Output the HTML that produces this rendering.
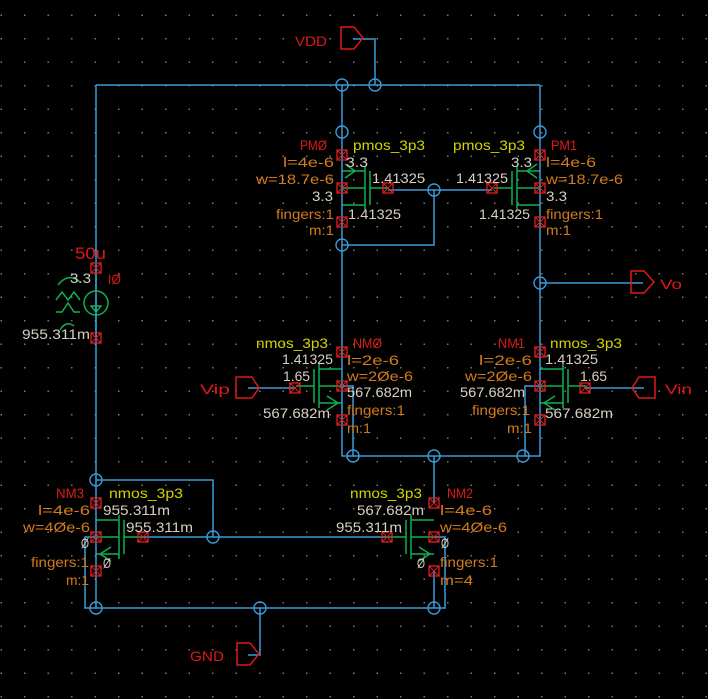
<!DOCTYPE html>
<html><head><meta charset="utf-8"><style>
html,body{margin:0;padding:0;background:#000;}
svg{display:block}
text{font-family:"Liberation Sans",sans-serif;font-size:14px;}
.o{fill:#d27a1c}.y{fill:#d2d200}.g{fill:#d8d0c0}.r{fill:#e01818}
</style></head><body>
<svg width="708" height="699" viewBox="0 0 708 699" xmlns="http://www.w3.org/2000/svg">
<defs>
<pattern id="dots" x="0" y="14.5" width="23.5" height="23.5" patternUnits="userSpaceOnUse">
<rect x="0.5" y="0" width="1.5" height="1.5" fill="#777"/>
</pattern>
<g id="sq"><rect x="-5" y="-5" width="10" height="10" fill="none" stroke="#e02020" stroke-width="1.3"/><path d="M-5,-5L5,5M5,-5L-5,5" stroke="#e02020" stroke-width="1"/></g>
<g id="pm" stroke="#10b050" stroke-width="1.5" fill="none">
<path d="M0,-17H23M0,17H23M0,0H23M23,-22V22M28,-17V17M28,0H46"/>
<path d="M3,-24L13,-17L3,-10"/>
</g>
<g id="nm" stroke="#10b050" stroke-width="1.5" fill="none">
<path d="M0,-17H23M0,17H23M0,0H23M23,-22V22M28,-17V17M28,0H46"/>
<path d="M15,10L4,17L15,24"/>
</g>
<circle id="c" r="6" fill="none" stroke="#3a9ad8" stroke-width="1.4"/>
</defs>
<rect width="708" height="699" fill="#000"/>
<rect width="708" height="699" fill="url(#dots)"/>

<!-- transistors -->
<use href="#pm" transform="translate(342,188)"/>
<use href="#pm" transform="translate(540,188) scale(-1,1)"/>
<use href="#nm" transform="translate(342,386) scale(-1,1)"/>
<use href="#nm" transform="translate(540,386)"/>
<use href="#nm" transform="translate(96,537)"/>
<use href="#nm" transform="translate(434,537) scale(-1,1)"/>

<!-- current source -->
<g stroke="#10b050" stroke-width="1.5" fill="none">
<path d="M96,268V338"/>
<circle cx="96" cy="303" r="12" fill="#000"/>
<path d="M96,294V312M91,306L96,312L101,306Z"/>
<path d="M58,285Q68,272 80,282M56,300L62,292L68,300L74,292L80,300M56,312H62L68,303L74,312H80M60,330Q66,320 74,326"/>
</g>

<!-- wires -->
<g stroke="#3a9ad8" stroke-width="1.5" fill="none">
<path d="M96,85H540M96,85V608M375,85V39H353"/>
<path d="M342,85V456H540V85"/>
<path d="M388,190H492M434,190V245H342"/>
<path d="M540,283H643"/>
<path d="M248,388H295M585,388H644"/>
<path d="M342,386H353V456M540,386H525V456"/>
<path d="M434,456V503"/>
<path d="M96,480H213V537M143,537H388"/>
<path d="M96,537H85V608H445V537H434M434,571V608"/>
<path d="M260,608V655H248"/>
</g>
<g>
<use href="#c" x="342" y="85"/><use href="#c" x="375" y="85"/>
<use href="#c" x="342" y="132"/><use href="#c" x="540" y="132"/>
<use href="#c" x="434" y="190"/><use href="#c" x="342" y="245"/>
<use href="#c" x="540" y="283"/><use href="#c" x="353" y="456"/>
<use href="#c" x="434" y="456"/><use href="#c" x="523" y="456"/>
<use href="#c" x="96" y="480"/><use href="#c" x="213" y="537"/>
<use href="#c" x="96" y="608"/><use href="#c" x="260" y="608"/>
<use href="#c" x="434" y="608"/>
</g>

<!-- squares -->
<g>
<use href="#sq" x="342" y="155"/><use href="#sq" x="342" y="188"/><use href="#sq" x="342" y="222"/><use href="#sq" x="388" y="188"/>
<use href="#sq" x="540" y="155"/><use href="#sq" x="540" y="188"/><use href="#sq" x="540" y="222"/><use href="#sq" x="492" y="188"/>
<use href="#sq" x="342" y="352"/><use href="#sq" x="342" y="386"/><use href="#sq" x="342" y="420"/><use href="#sq" x="295" y="388"/>
<use href="#sq" x="540" y="352"/><use href="#sq" x="540" y="386"/><use href="#sq" x="540" y="420"/><use href="#sq" x="585" y="388"/>
<use href="#sq" x="96" y="503"/><use href="#sq" x="96" y="537"/><use href="#sq" x="96" y="571"/><use href="#sq" x="143" y="537"/>
<use href="#sq" x="434" y="503"/><use href="#sq" x="434" y="537"/><use href="#sq" x="434" y="571"/><use href="#sq" x="387" y="537"/>
<use href="#sq" x="96" y="268"/><use href="#sq" x="96" y="338"/>
</g>

<!-- pins -->
<g fill="none" stroke="#e01818" stroke-width="1.5">
<path d="M341,27H354L363,38L354,49H341Z"/>
<path d="M631,271H644L654,282L644,293H631Z"/>
<path d="M236,377H252L259,388L252,398H236Z"/>
<path d="M655,377H639L632,388L639,398H655Z"/>
<path d="M237,643H250L259,654L250,665H237Z"/>
</g>
<g style="font-size:16px">
<text class="r" x="295" y="46" textLength="32" lengthAdjust="spacingAndGlyphs">VDD</text>
<text class="r" x="660" y="289" textLength="22" lengthAdjust="spacingAndGlyphs">Vo</text>
<text class="r" x="200" y="394" textLength="30" lengthAdjust="spacingAndGlyphs">Vip</text>
<text class="r" x="665" y="394" textLength="27" lengthAdjust="spacingAndGlyphs">Vin</text>
<text class="r" x="190" y="661" textLength="34" lengthAdjust="spacingAndGlyphs">GND</text>
<text class="r" x="75" y="259" textLength="31" lengthAdjust="spacingAndGlyphs" style="font-size:17px">50u</text>
</g>
<g lengthAdjust="spacingAndGlyphs">
<text class="r" x="108" y="284" textLength="13" lengthAdjust="spacingAndGlyphs">IØ</text>
<text class="g" x="70" y="283" textLength="21" lengthAdjust="spacingAndGlyphs">3.3</text>
<text class="g" x="22" y="339" textLength="68" lengthAdjust="spacingAndGlyphs">955.311m</text>

<!-- PM0 -->
<text class="r" x="300" y="150" textLength="27" lengthAdjust="spacingAndGlyphs">PMØ</text>
<text class="y" x="353" y="150" textLength="72" lengthAdjust="spacingAndGlyphs">pmos_3p3</text>
<text class="o" x="283" y="167" textLength="51" lengthAdjust="spacingAndGlyphs">l=4e-6</text>
<text class="g" x="346" y="167" textLength="22" lengthAdjust="spacingAndGlyphs">3.3</text>
<text class="o" x="256" y="184" textLength="78" lengthAdjust="spacingAndGlyphs">w=18.7e-6</text>
<text class="g" x="372" y="183" textLength="53" lengthAdjust="spacingAndGlyphs">1.41325</text>
<text class="g" x="312" y="201" textLength="21" lengthAdjust="spacingAndGlyphs">3.3</text>
<text class="o" x="276" y="219" textLength="58" lengthAdjust="spacingAndGlyphs">fingers:1</text>
<text class="g" x="348" y="219" textLength="53" lengthAdjust="spacingAndGlyphs">1.41325</text>
<text class="o" x="309" y="235" textLength="25" lengthAdjust="spacingAndGlyphs">m:1</text>
<!-- PM1 -->
<text class="y" x="453" y="150" textLength="72" lengthAdjust="spacingAndGlyphs">pmos_3p3</text>
<text class="r" x="551" y="150" textLength="26" lengthAdjust="spacingAndGlyphs">PM1</text>
<text class="g" x="511" y="167" textLength="21" lengthAdjust="spacingAndGlyphs">3.3</text>
<text class="o" x="546" y="167" textLength="50" lengthAdjust="spacingAndGlyphs">l=4e-6</text>
<text class="g" x="456" y="183" textLength="52" lengthAdjust="spacingAndGlyphs">1.41325</text>
<text class="o" x="546" y="184" textLength="77" lengthAdjust="spacingAndGlyphs">w=18.7e-6</text>
<text class="g" x="546" y="201" textLength="21" lengthAdjust="spacingAndGlyphs">3.3</text>
<text class="g" x="479" y="219" textLength="51" lengthAdjust="spacingAndGlyphs">1.41325</text>
<text class="o" x="546" y="219" textLength="57" lengthAdjust="spacingAndGlyphs">fingers:1</text>
<text class="o" x="546" y="235" textLength="25" lengthAdjust="spacingAndGlyphs">m:1</text>
<!-- NM0 -->
<text class="y" x="256" y="348" textLength="72" lengthAdjust="spacingAndGlyphs">nmos_3p3</text>
<text class="r" x="353" y="348" textLength="29" lengthAdjust="spacingAndGlyphs">NMØ</text>
<text class="g" x="282" y="364" textLength="51" lengthAdjust="spacingAndGlyphs">1.41325</text>
<text class="o" x="347" y="365" textLength="52" lengthAdjust="spacingAndGlyphs">l=2e-6</text>
<text class="g" x="283" y="381" textLength="27" lengthAdjust="spacingAndGlyphs">1.65</text>
<text class="o" x="347" y="381" textLength="66" lengthAdjust="spacingAndGlyphs">w=2Øe-6</text>
<text class="g" x="347" y="397" textLength="65" lengthAdjust="spacingAndGlyphs">567.682m</text>
<text class="o" x="347" y="415" textLength="58" lengthAdjust="spacingAndGlyphs">fingers:1</text>
<text class="g" x="263" y="418" textLength="67" lengthAdjust="spacingAndGlyphs">567.682m</text>
<text class="o" x="347" y="433" textLength="24" lengthAdjust="spacingAndGlyphs">m:1</text>
<!-- NM1 -->
<text class="r" x="498" y="348" textLength="27" lengthAdjust="spacingAndGlyphs">NM1</text>
<text class="y" x="550" y="348" textLength="72" lengthAdjust="spacingAndGlyphs">nmos_3p3</text>
<text class="o" x="479" y="365" textLength="53" lengthAdjust="spacingAndGlyphs">l=2e-6</text>
<text class="g" x="545" y="364" textLength="53" lengthAdjust="spacingAndGlyphs">1.41325</text>
<text class="o" x="465" y="381" textLength="67" lengthAdjust="spacingAndGlyphs">w=2Øe-6</text>
<text class="g" x="580" y="381" textLength="27" lengthAdjust="spacingAndGlyphs">1.65</text>
<text class="g" x="460" y="397" textLength="65" lengthAdjust="spacingAndGlyphs">567.682m</text>
<text class="o" x="472" y="415" textLength="58" lengthAdjust="spacingAndGlyphs">fingers:1</text>
<text class="g" x="545" y="418" textLength="68" lengthAdjust="spacingAndGlyphs">567.682m</text>
<text class="o" x="507" y="433" textLength="25" lengthAdjust="spacingAndGlyphs">m:1</text>
<!-- NM3 -->
<text class="r" x="56" y="498" textLength="28" lengthAdjust="spacingAndGlyphs">NM3</text>
<text class="y" x="109" y="498" textLength="74" lengthAdjust="spacingAndGlyphs">nmos_3p3</text>
<text class="o" x="38" y="515" textLength="52" lengthAdjust="spacingAndGlyphs">l=4e-6</text>
<text class="g" x="103" y="515" textLength="67" lengthAdjust="spacingAndGlyphs">955.311m</text>
<text class="o" x="23" y="532" textLength="67" lengthAdjust="spacingAndGlyphs">w=4Øe-6</text>
<text class="g" x="126" y="532" textLength="67" lengthAdjust="spacingAndGlyphs">955.311m</text>
<text class="g" x="81" y="548" textLength="8" lengthAdjust="spacingAndGlyphs">Ø</text>
<text class="o" x="31" y="567" textLength="58" lengthAdjust="spacingAndGlyphs">fingers:1</text>
<text class="g" x="103" y="568" textLength="8" lengthAdjust="spacingAndGlyphs">Ø</text>
<text class="o" x="66" y="585" textLength="23" lengthAdjust="spacingAndGlyphs">m:1</text>
<!-- NM2 -->
<text class="y" x="350" y="498" textLength="72" lengthAdjust="spacingAndGlyphs">nmos_3p3</text>
<text class="r" x="447" y="498" textLength="26" lengthAdjust="spacingAndGlyphs">NM2</text>
<text class="g" x="357" y="515" textLength="67" lengthAdjust="spacingAndGlyphs">567.682m</text>
<text class="o" x="440" y="515" textLength="52" lengthAdjust="spacingAndGlyphs">l=4e-6</text>
<text class="g" x="336" y="532" textLength="66" lengthAdjust="spacingAndGlyphs">955.311m</text>
<text class="o" x="440" y="532" textLength="67" lengthAdjust="spacingAndGlyphs">w=4Øe-6</text>
<text class="g" x="441" y="548" textLength="8" lengthAdjust="spacingAndGlyphs">Ø</text>
<text class="g" x="417" y="568" textLength="8" lengthAdjust="spacingAndGlyphs">Ø</text>
<text class="o" x="440" y="567" textLength="58" lengthAdjust="spacingAndGlyphs">fingers:1</text>
<text class="o" x="440" y="585" textLength="33" lengthAdjust="spacingAndGlyphs">m=4</text>
</g>
</svg>
</body></html>
